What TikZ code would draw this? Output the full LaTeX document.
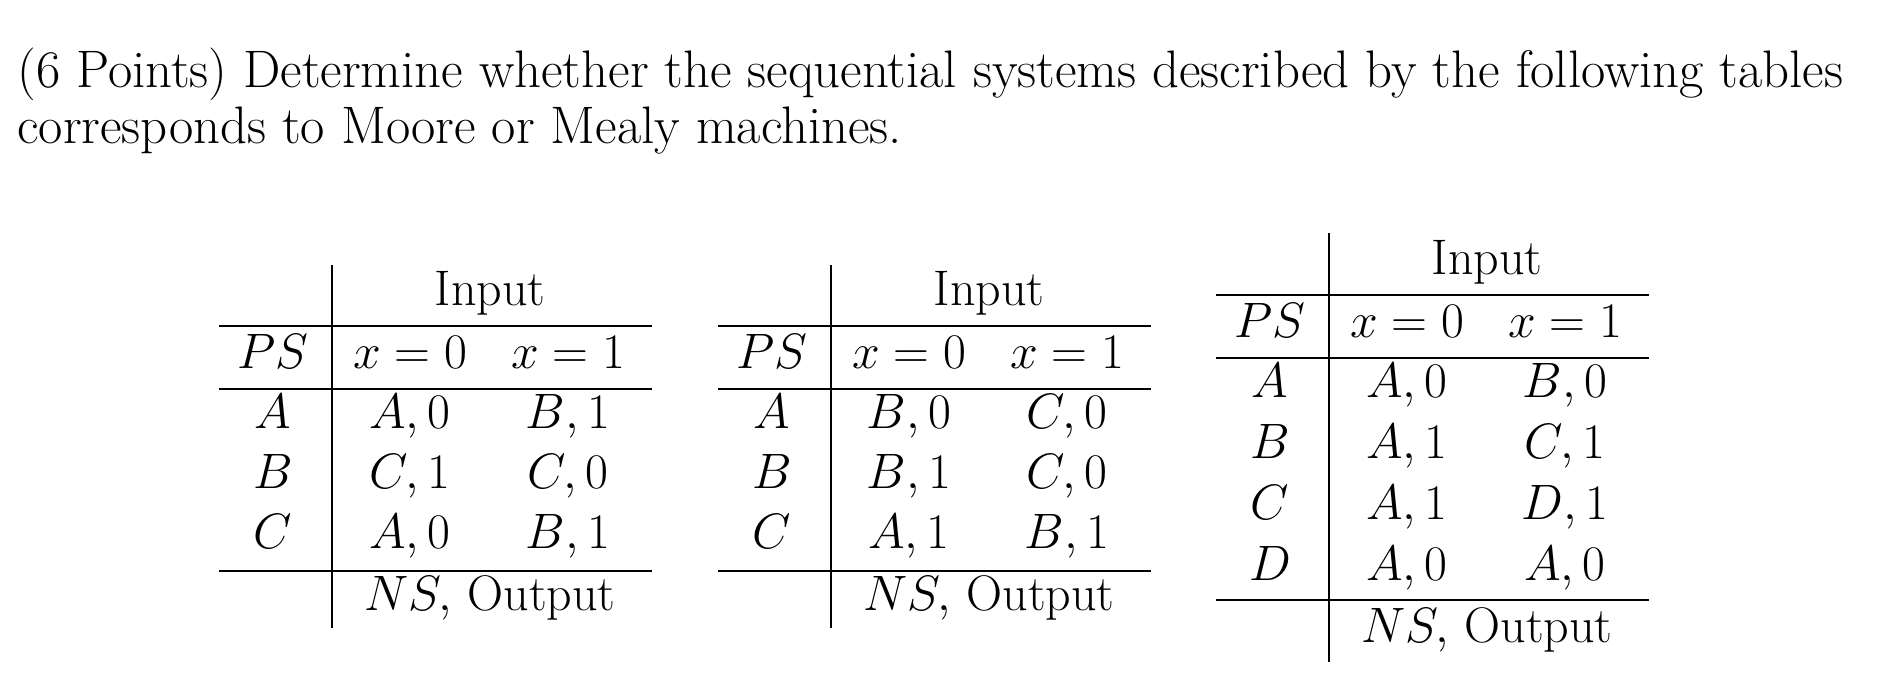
\documentclass[tikz,border=0pt]{standalone}
\begin{document}
\begin{tikzpicture}[x=0.5pt,y=-0.5pt,
  t/.style={anchor=base,inner sep=0pt,font=\fontsize{25}{30}\selectfont},
  tt/.style={anchor=base west,inner sep=0pt,font=\fontsize{26.4}{30}\selectfont},
  rule/.style={line width=1.3pt}]
\useasboundingbox (0,0) rectangle (1896,696);
\node[tt] (title1) at (17,87) {(6 Points) Determine whether the sequential systems described by the following tables};
\node[tt] (title2) at (17,143) {corresponds to Moore or Mealy machines.};
% 3-row tables
\foreach \dx/\a/\b/\c/\d/\e/\f/\n in {0/{A,0}/{B,1}/{C,1}/{C,0}/{A,0}/{B,1}/t1, 499/{B,0}/{C,0}/{B,1}/{C,0}/{A,1}/{B,1}/t2}{
 \begin{scope}[xshift=\dx*0.5pt]
  \coordinate (\n vt) at (332,265); \coordinate (\n vb) at (332,628);
  \draw[rule] (\n vt) -- (\n vb);
  \coordinate (\n l1) at (219,326); \coordinate (\n r1) at (652,326);
  \coordinate (\n l2) at (219,389); \coordinate (\n r2) at (652,389);
  \coordinate (\n l3) at (219,571); \coordinate (\n r3) at (652,571);
  \draw[rule] (\n l1) -- (\n r1); \draw[rule] (\n l2) -- (\n r2); \draw[rule] (\n l3) -- (\n r3);
  \node[t] (\n in) at (490,305) {Input};
  \node[t] (\n ps) at (273,368) {$PS$};
  \node[t] (\n x0) at (410,368) {$x=0$};
  \node[t] (\n x1) at (568,368) {$x=1$};
  \node[t] (\n ra) at (273,428) {$A$};
  \node[t] (\n rb) at (273,488) {$B$};
  \node[t] (\n rc) at (273,548) {$C$};
  \node[t] (\n a0) at (410,428) {$\a$};
  \node[t] (\n a1) at (568,428) {$\b$};
  \node[t] (\n b0) at (410,488) {$\c$};
  \node[t] (\n b1) at (568,488) {$\d$};
  \node[t] (\n c0) at (410,548) {$\e$};
  \node[t] (\n c1) at (568,548) {$\f$};
  \node[t] (\n ns) at (490,610) {$NS,$ Output};
 \end{scope}}
% table 3
\begin{scope}[xshift=997*0.5pt]
  \coordinate (vt) at (332,233); \coordinate (vb) at (332,662);
  \draw[rule] (vt) -- (vb);
  \coordinate (l1) at (219,295); \coordinate (r1) at (652,295);
  \coordinate (l2) at (219,358); \coordinate (r2) at (652,358);
  \coordinate (l3) at (219,600); \coordinate (r3) at (652,600);
  \draw[rule] (l1) -- (r1); \draw[rule] (l2) -- (r2); \draw[rule] (l3) -- (r3);
  \node[t] (in) at (490,274) {Input};
  \node[t] (ps) at (273,337) {$PS$};
  \node[t] (x0) at (410,337) {$x=0$};
  \node[t] (x1) at (568,337) {$x=1$};
  \node[t] (ra) at (273,397) {$A$};
  \node[t] (rb) at (273,458) {$B$};
  \node[t] (rc) at (273,519) {$C$};
  \node[t] (rd) at (273,580) {$D$};
  \node[t] (a0) at (410,397) {$A,0$};
  \node[t] (a1) at (568,397) {$B,0$};
  \node[t] (b0) at (410,458) {$A,1$};
  \node[t] (b1) at (568,458) {$C,1$};
  \node[t] (c0) at (410,519) {$A,1$};
  \node[t] (c1) at (568,519) {$D,1$};
  \node[t] (d0) at (410,580) {$A,0$};
  \node[t] (d1) at (568,580) {$A,0$};
  \node[t] (ns) at (490,642) {$NS,$ Output};
\end{scope}
\end{tikzpicture}
\end{document}
